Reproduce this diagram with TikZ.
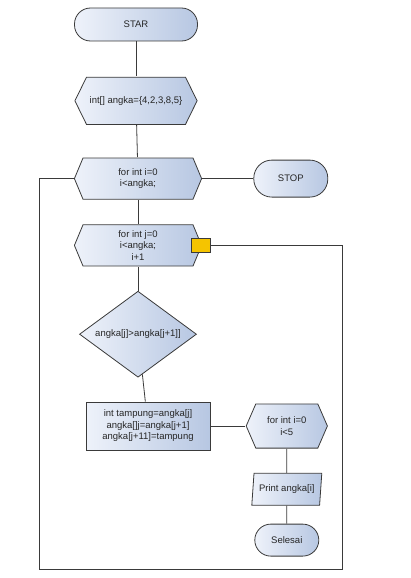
\documentclass[tikz,border=0pt]{standalone}
\usepackage{fontspec}
\setsansfont{Liberation Sans}
\usetikzlibrary{positioning,shapes.geometric}
\definecolor{boxL}{HTML}{EEF2FA}
\definecolor{boxR}{HTML}{B7C7E2}
\definecolor{flagY}{HTML}{F5C400}
\definecolor{lineC}{HTML}{3A3A3A}

\begin{document}
\begin{tikzpicture}[x=1pt,y=-1pt,line width=.8pt,node distance=24pt,
		every node/.style={font=\sffamily\fontsize{9.5}{11.5}\selectfont,align=center,inner sep=0pt,text=black!85},
		term/.style={rectangle,draw=lineC,left color=boxL,right color=boxR,rounded corners=#1},
		hexbox/.style={rectangle,path picture={
			\draw[lineC,left color=boxL,right color=boxR]
			([xshift=#1,yshift=-.4pt]path picture bounding box.north west) --
			([xshift=-#1,yshift=-.4pt]path picture bounding box.north east) --
			([xshift=-.4pt]path picture bounding box.east) --
			([xshift=-#1,yshift=.4pt]path picture bounding box.south east) --
			([xshift=#1,yshift=.4pt]path picture bounding box.south west) --
			([xshift=.4pt]path picture bounding box.west) -- cycle;}},
		box/.style={rectangle,draw=lineC,left color=boxL,right color=boxR},
		cond/.style={diamond,aspect=1.36,draw=lineC,left color=boxL,right color=boxR,minimum width=117pt,minimum height=86pt},
		io/.style={trapezium,trapezium left angle=76,trapezium right angle=104,draw=lineC,left color=boxL,right color=boxR,minimum width=70pt,minimum height=32pt,trapezium stretches body},
		flag/.style={rectangle,draw=lineC,fill=flagY,minimum width=19pt,minimum height=14pt}]

	\useasboundingbox (0,0) rectangle (410,578);

	\node[term=16pt,minimum width=123pt,minimum height=33pt] (star) at (136,24.5) {STAR};
	\node[hexbox=12pt,minimum width=123pt,minimum height=48pt,below=35pt of star] (init) {int[] angka=\{4,2,3,8,5\}};
	\node[hexbox=9pt,minimum width=128pt,minimum height=42pt,below=32pt of init,xshift=2pt] (loopi) {for int i=0\\i<angka;};
	\node[term=18pt,minimum width=74pt,minimum height=37pt,right=51pt of loopi] (stop) {STOP};
	\node[hexbox=9pt,minimum width=128pt,minimum height=42pt,below=24pt of loopi] (loopj) {for int j=0\\i<angka;\\i+1};
	\node[cond,below=24pt of loopj] (test) {angka[j]>angka[j+1]]};
	\node[box,minimum width=124pt,minimum height=48pt,below=24pt of test,xshift=10pt] (swap) {int tampung=angka[j]\\angka[]j=angka[j+1]\\angka[j+11]=tampung};
	\node[hexbox=10pt,minimum width=82pt,minimum height=45pt,right=35pt of swap] (loopk) {for int i=0\\i<5};
	\node[io,below=24pt of loopk] (out) {Print angka[i]};
	\node[term=16pt,minimum width=64pt,minimum height=32pt,below=18pt of out] (done) {Selesai};
	\node[flag] (mark) at ([xshift=-2pt]loopj.east) {};
	\coordinate (br) at (342,569);
	\coordinate (bl) at (39,569);

	\path[draw=lineC]
	(star) edge (init)
	(init) edge (loopi)
	(loopi) edge (stop)
	(loopi) edge (loopj)
	(loopj) edge (test)
	(test) edge (swap)
	(swap) edge (loopk)
	(loopk) edge (out)
	(out) edge (done)
	;
	\draw[lineC] (mark.east) -| (br) -- (bl) |- (loopi.west);
\end{tikzpicture}
\end{document}
